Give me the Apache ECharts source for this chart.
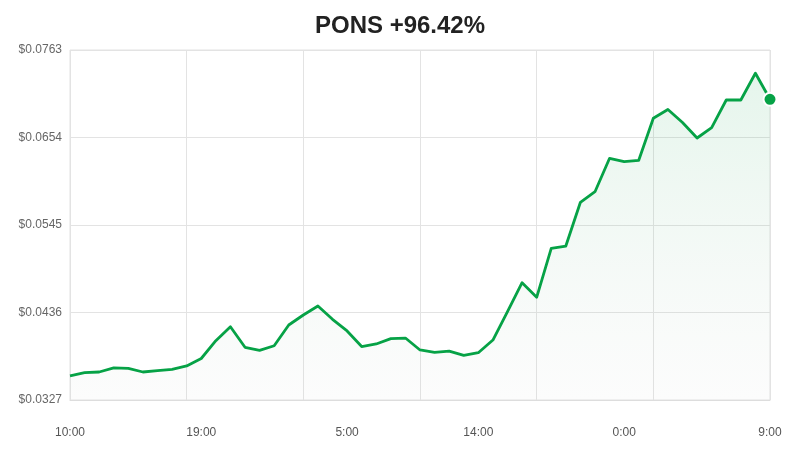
<!DOCTYPE html>
<html>
<head>
<meta charset="utf-8">
<script src="https://cdn.jsdelivr.net/npm/echarts@6/dist/echarts.min.js"></script>
<style>
html,body{margin:0;padding:0;background:#fff;}
#c{width:800px;height:450px;}
</style>
</head>
<body>
<div id="c"></div>
<script>
const titleText = 'PONS +96.42%';
const prices = [
  0.03572, 0.03610, 0.03619, 0.03669, 0.03665, 0.03619, 0.03635, 0.03652, 0.03694, 0.03787,
  0.04009, 0.04183, 0.03927, 0.03889, 0.03946, 0.04204, 0.04329, 0.04441, 0.04275, 0.04130,
  0.03936, 0.03968, 0.04034, 0.04042, 0.03893, 0.03864, 0.03880, 0.03827, 0.03859, 0.04017,
  0.04372, 0.04731, 0.04549, 0.05160, 0.05188, 0.05733, 0.05865, 0.06281, 0.06239, 0.06256,
  0.06779, 0.06889, 0.06727, 0.06534, 0.06662, 0.07007, 0.07007, 0.07340, 0.07016
];
const xTickHours = [0, 9, 19, 28, 38, 48];
const xTickLabels = ['10:00', '19:00', '5:00', '14:00', '0:00', '9:00'];
const yTicks = [0.0327, 0.0436, 0.0545, 0.0654, 0.0763];

const lineColor = '#06a246';
const seriesData = prices.map((v, i) => [i, v]);
const lastPoint = [[prices.length - 1, prices[prices.length - 1]]];

const chart = echarts.init(document.getElementById('c'));
chart.setOption({
  animation: false,
  backgroundColor: '#fff',
  title: {
    text: titleText,
    left: 'center',
    top: 9,
    textStyle: { fontFamily: 'Liberation Sans', fontSize: 24, fontWeight: 'bold', color: '#222' }
  },
  grid: { left: 70, right: 30, top: 50, bottom: 50, show: true, borderColor: '#e3e3e3', borderWidth: 1 },
  xAxis: {
    type: 'value',
    min: 0,
    max: prices.length - 1,
    interval: 8,
    axisLine: { show: true, lineStyle: { color: '#dddddd' } },
    axisTick: { show: false },
    splitLine: { show: true, lineStyle: { color: '#e3e3e3', width: 1 } },
    axisLabel: {
      customValues: xTickHours,
      formatter: v => xTickLabels[xTickHours.indexOf(v)] || '',
      margin: 27,
      color: '#555',
      fontFamily: 'Liberation Sans',
      fontSize: 12
    }
  },
  yAxis: {
    type: 'value',
    min: yTicks[0],
    max: yTicks[yTicks.length - 1],
    interval: 0.0109,
    axisLine: { show: false },
    axisTick: { show: false },
    splitLine: { show: true, lineStyle: { color: '#e3e3e3', width: 1 } },
    axisLabel: {
      customValues: yTicks,
      formatter: v => '$' + v.toFixed(4),
      margin: 8,
      color: '#666',
      fontFamily: 'Liberation Sans',
      fontSize: 12
    }
  },
  series: [
    {
      type: 'line',
      data: seriesData,
      showSymbol: false,
      lineStyle: { color: lineColor, width: 2.8, join: 'round' },
      areaStyle: {
        color: {
          type: 'linear', x: 0, y: 0, x2: 0, y2: 1,
          colorStops: [
            { offset: 0, color: 'rgba(6,162,70,0.15)' },
            { offset: 1, color: 'rgba(200,200,200,0.08)' }
          ]
        }
      },
      z: 2
    },
    {
      type: 'scatter',
      data: lastPoint,
      symbol: 'circle',
      symbolSize: 13,
      itemStyle: { color: lineColor, borderColor: '#fff', borderWidth: 2, opacity: 1 },
      z: 3
    }
  ]
});
</script>
</body>
</html>
